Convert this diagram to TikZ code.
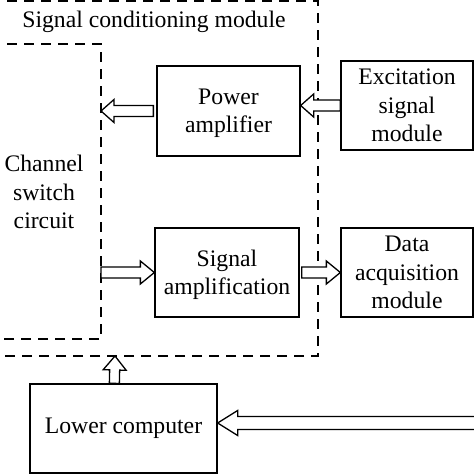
\documentclass[tikz,border=0pt]{standalone}
\usepackage{fontspec}
\setmainfont{Liberation Serif}
\usetikzlibrary{calc}
\tikzset{
  blk/.style={draw, line width=1.3pt, align=center, inner sep=0pt},
  lbl/.style={align=center, inner sep=0pt},
  dashbox/.style={line width=1.3pt, dash pattern=on 10pt off 7pt},
  hollow/.style={draw, fill=white, line width=1.3pt, line join=miter},
}
\newcommand\harrow[5]{%
  \coordinate (hb) at ($(#2)!#5!(#1)$);
  \draw[hollow] ($(#1)!#3!90:(#2)$) -- ($(hb)!#3!90:(#2)$) -- ($(hb)!#4!90:(#2)$) -- (#2)
    -- ($(hb)!#4!-90:(#2)$) -- ($(hb)!#3!-90:(#2)$) -- ($(#1)!#3!-90:(#2)$) -- cycle;
}
\begin{document}
\begin{tikzpicture}[x=1pt,y=-1pt,font=\fontsize{23.7}{28.3}\selectfont]
\useasboundingbox (0,0) rectangle (474,474);
\clip (0,0) rectangle (474,474);
% dashed module boundaries
\draw[dashbox] (-10,1) -- (318,1) -- (318,356) -- (-10,356);
\draw[dashbox] (-10,44) -- (101,44) -- (101,339) -- (-10,339);
\node[lbl] (scm) at (154,22) {Signal conditioning module};
\node[lbl] (csc) at (44,192) {Channel\\switch\\circuit};
% blocks
\node[blk, minimum width=143pt, minimum height=90pt] (pa) at (228.5,111) {};
\node[lbl] (patext) at ($(pa.center)+(0,2.5)$) {Power\\amplifier};
\node[blk, minimum width=132pt, minimum height=89pt] (exc) at (407,105.5) {Excitation\\signal\\module};
\node[blk, minimum width=144pt, minimum height=89pt] (sa) at (227,272.5) {};
\node[lbl] (satext) at ($(sa.center)+(0,2.5)$) {Signal\\amplification};
\node[blk, minimum width=132pt, minimum height=89pt] (da) at (407,272.5) {Data\\acquisition\\module};
\node[blk, minimum width=187pt, minimum height=89pt] (lc) at (123.5,428.5) {Lower computer};
% connector end points
\coordinate (pat) at (exc.west -| pa.east);
\coordinate (paw) at ($(pa.west)+(-3,0)$);
\coordinate (c1) at (101,111);
\coordinate (c2) at (101,272.5);
\coordinate (sae) at ($(sa.east)+(2,0)$);
\coordinate (lcn) at ($(lc.north west)+(85,0)$);
\coordinate (ob) at (115,356);
\coordinate (rin) at (490,423);
\coordinate (lce) at (lc.east |- rin);
% hollow arrows
\harrow{exc.west}{pat}{5.5pt}{11.5pt}{13pt}
\harrow{paw}{c1}{5.5pt}{11.5pt}{13pt}
\harrow{c2}{sa.west}{5.5pt}{11.5pt}{14pt}
\harrow{sae}{da.west}{5.5pt}{11.5pt}{14pt}
\harrow{lcn}{ob}{5pt}{11.5pt}{14pt}
\harrow{rin}{lce}{6.5pt}{12.5pt}{20pt}
\end{tikzpicture}
\end{document}
